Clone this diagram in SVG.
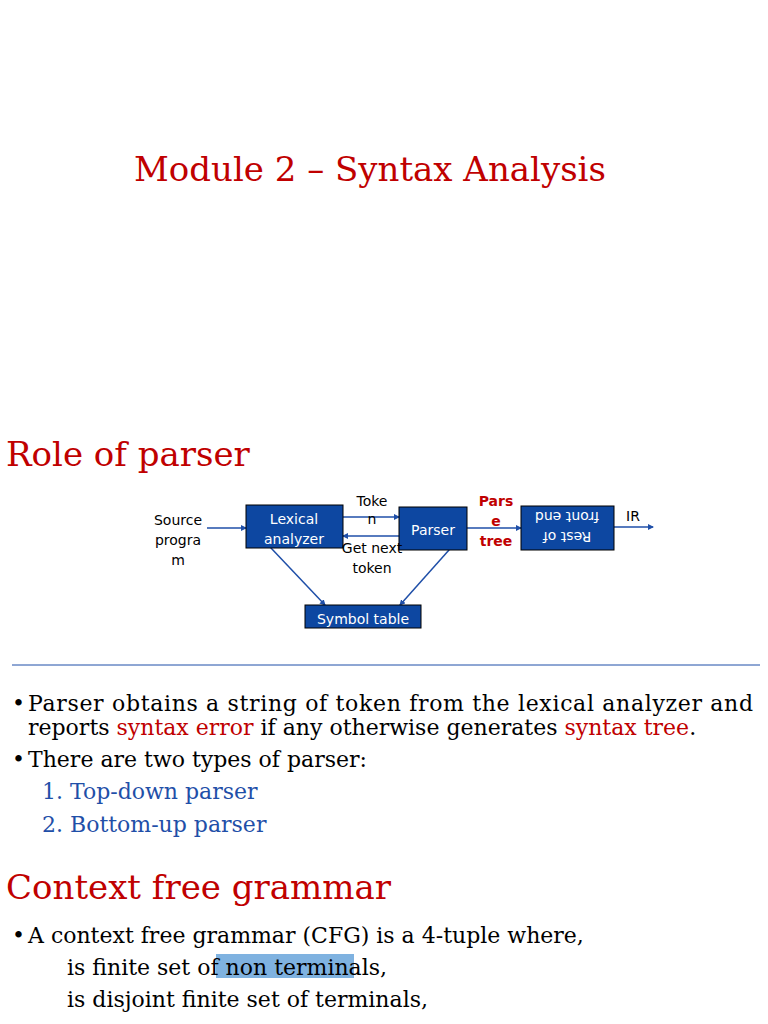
<svg xmlns="http://www.w3.org/2000/svg" width="768" height="1024" viewBox="0 0 768 1024">
<defs>
<marker id="ah" markerWidth="6" markerHeight="6" refX="5" refY="3" orient="auto" markerUnits="userSpaceOnUse"><path d="M0,0 L6,3 L0,6 z" fill="#1f4fa8"/></marker>
<style>
.t{font-family:"DejaVu Serif",serif}
.s{font-family:"DejaVu Sans",sans-serif;font-size:14px}
.box{fill:#0d47a1;stroke:#000;stroke-width:1}
.bt{font-family:"DejaVu Sans",sans-serif;font-size:14px;fill:#fff;text-anchor:middle}
.ln{stroke:#1f4fa8;stroke-width:1.5;fill:none}
.red{fill:#c00000}
.blue{fill:#1f4fa8}
</style>
</defs>
<rect width="768" height="1024" fill="#fff"/>
<text class="t red" x="370" y="181" font-size="34" text-anchor="middle">Module 2 – Syntax Analysis</text>
<text class="t red" x="6" y="466" font-size="34">Role of parser</text>
<g id="connectors">
<line class="ln" x1="207" y1="528" x2="246" y2="528" marker-end="url(#ah)"/>
<line class="ln" x1="343" y1="517" x2="399" y2="517" marker-end="url(#ah)"/>
<line class="ln" x1="399" y1="536" x2="343" y2="536" marker-end="url(#ah)"/>
<line class="ln" x1="467" y1="528" x2="521" y2="528" marker-end="url(#ah)"/>
<line class="ln" x1="614" y1="527" x2="653" y2="527" marker-end="url(#ah)"/>
<line class="ln" x1="271" y1="548" x2="325" y2="605" marker-end="url(#ah)" marker-start="url(#ah)"/>
<line class="ln" x1="449" y1="550" x2="400" y2="605" marker-end="url(#ah)" marker-start="url(#ah)"/>
</g>
<g id="source"><text class="s" x="178" y="525" text-anchor="middle">Source</text><text class="s" x="178" y="545" text-anchor="middle">progra</text><text class="s" x="178" y="565" text-anchor="middle">m</text></g>
<g id="lexical"><rect class="box" x="246" y="505" width="97" height="43"/><text class="bt" x="294" y="524">Lexical</text><text class="bt" x="294" y="544">analyzer</text></g>
<g id="parser"><rect class="box" x="399" y="507" width="68" height="43"/><text class="bt" x="433" y="535">Parser</text></g>
<g id="rest"><rect class="box" x="521" y="506" width="93" height="44"/><g transform="rotate(180 567 528)"><text class="bt" x="567" y="524">Rest of</text><text class="bt" x="567" y="544">front end</text></g></g>
<g id="symtab"><rect class="box" x="305" y="605" width="116" height="23"/><text class="bt" x="363" y="624">Symbol table</text></g>
<g id="labels">
<text class="s" x="372" y="506" text-anchor="middle">Toke</text><text class="s" x="372" y="524" text-anchor="middle">n</text>
<text class="s" x="372" y="553" text-anchor="middle">Get next</text><text class="s" x="372" y="573" text-anchor="middle">token</text>
<text class="s red" x="496" y="506" text-anchor="middle" font-weight="bold">Pars</text>
<text class="s red" x="496" y="526" text-anchor="middle" font-weight="bold">e</text>
<text class="s red" x="496" y="546" text-anchor="middle" font-weight="bold">tree</text>
<text class="s" x="633" y="521" text-anchor="middle">IR</text>
</g>
<line x1="12" y1="665" x2="760" y2="665" stroke="#1f4fa8" stroke-width="1"/>
<g class="t" font-size="22">
<text x="12" y="711">•</text>
<text x="28" y="711" textLength="725" lengthAdjust="spacing">Parser obtains a string of token from the lexical analyzer and</text>
<text x="28" y="735">reports  <tspan class="red">syntax error</tspan> if any otherwise generates <tspan class="red">syntax tree</tspan>.</text>
<text x="12" y="767">•</text>
<text x="28" y="767">There are two types of parser:</text>
<text class="blue" x="42" y="799">1.  Top-down parser</text>
<text class="blue" x="42" y="832">2.  Bottom-up parser</text>
</g>
<text class="t red" x="6" y="899" font-size="34">Context free grammar</text>
<rect x="216" y="954" width="138" height="24" fill="#7fb2e0"/>
<g class="t" font-size="22">
<text x="12" y="943">•</text>
<text x="28" y="943">A context free grammar (CFG) is a 4-tuple where,</text>
<text x="67" y="975">is finite set of non terminals,</text>
<text x="67" y="1007">is disjoint finite set of terminals,</text>
</g>
</svg>
